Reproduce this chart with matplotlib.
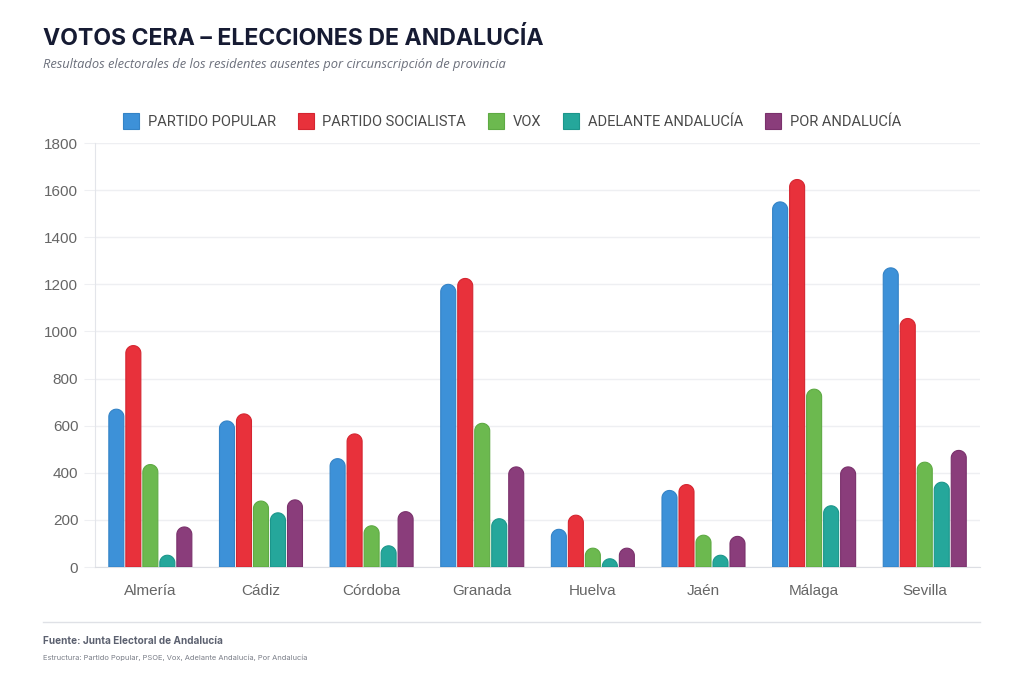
import matplotlib
matplotlib.use("Agg")
import matplotlib.pyplot as plt
from matplotlib.patches import Polygon, Patch
import numpy as np

# datos
provincias = ["Almería", "Cádiz", "Córdoba", "Granada", "Huelva", "Jaén", "Málaga", "Sevilla"]
partidos = ["PARTIDO POPULAR", "PARTIDO SOCIALISTA", "VOX", "ADELANTE ANDALUCÍA", "POR ANDALUCÍA"]
pp = [670, 620, 460, 1200, 160, 325, 1550, 1270]
psoe = [940, 650, 565, 1225, 220, 350, 1645, 1055]
vox = [435, 280, 175, 610, 80, 135, 755, 445]
adelante = [50, 230, 90, 205, 35, 50, 260, 360]
por_and = [170, 285, 235, 425, 80, 130, 425, 495]
yticks = [0, 200, 400, 600, 800, 1000, 1200, 1400, 1600, 1800]

series = [pp, psoe, vox, adelante, por_and]
colores = ["#3d91d8", "#e8313b", "#6cb94f", "#25a79b", "#8a3d7b"]
bordes = ["#3483c6", "#d52530", "#5eaa43", "#1c968b", "#7a316c"]

fig = plt.figure(figsize=(10.24, 6.82), dpi=100)
ax = fig.add_axes([0.0928, 0.1686, 0.8643, 0.6217])

ymax = 1800
ax.set_xlim(-0.5, len(provincias) - 0.5)
ax.set_ylim(0, ymax)

# tamanos en pixeles -> unidades de datos
ax_w_px = 0.8643 * 1024
ax_h_px = 0.6217 * 682
px_x = ax_w_px / len(provincias)
px_y = ax_h_px / ymax
slot = 17 / px_x
ancho = 15 / px_x
r_x = ancho / 2
r_y = (15 / 2) / px_y
ang = np.linspace(0, np.pi, 30)


def barra_redonda(xc, v, c, e):
    # barra con la parte de arriba en semicirculo
    top = max(v - r_y, 0)
    arco = np.column_stack([xc + r_x * np.cos(ang), top + r_y * np.sin(ang)])
    pts = np.vstack([[xc + r_x, 0], arco, [xc - r_x, 0]])
    ax.add_patch(Polygon(pts, closed=True, facecolor=c, edgecolor=e,
                         linewidth=0.8, zorder=3))


for i, (vals, c, e) in enumerate(zip(series, colores, bordes)):
    for j, v in enumerate(vals):
        barra_redonda(j + (i - 2) * slot, v, c, e)

ax.set_yticks(yticks)
ax.set_xticks(range(len(provincias)))
ax.set_xticklabels(provincias)
ax.grid(axis="y", color="#eeeff2", linewidth=1, zorder=0)
for s in ["top", "right"]:
    ax.spines[s].set_visible(False)
ax.spines["left"].set_color("#e3e5ea")
ax.spines["bottom"].set_color("#dcdee3")
ax.tick_params(axis="y", length=8, color="#eeeff2", labelsize=11, labelcolor="#666666", pad=4)
ax.tick_params(axis="x", length=0, labelsize=11, labelcolor="#666666", pad=12)
for lab in ax.get_xticklabels() + ax.get_yticklabels():
    lab.set_fontfamily("Liberation Sans")

handles = [Patch(facecolor=c, edgecolor=e, linewidth=0.8) for c, e in zip(colores, bordes)]
fig.legend(handles, partidos, loc="center", bbox_to_anchor=(0.5, 0.822), ncol=5,
           frameon=False, handlelength=1.1, handleheight=1.3, handletextpad=0.6,
           columnspacing=1.5, prop={"family": "Roboto", "size": 10.5},
           labelcolor="#4a4a4a")

fig.text(0.042, 0.943, "VOTOS CERA – ELECCIONES DE ANDALUCÍA", fontsize=16.6,
         fontweight="bold", color="#161b33", family="Inter", va="center")
fig.text(0.042, 0.906, "Resultados electorales de los residentes ausentes por circunscripción de provincia",
         fontsize=9.3, style="italic", color="#6b6f7b", family="Open Sans", va="center")

fig.add_artist(plt.Line2D([0.042, 0.957], [1 - 622 / 682] * 2, color="#dfe1e6", linewidth=1))
fig.text(0.042, 1 - 641 / 682, "Fuente: Junta Electoral de Andalucía", fontsize=7.2,
         fontweight="bold", color="#5c6170", family="Inter", va="center")
fig.text(0.042, 1 - 658 / 682, "Estructura: Partido Popular, PSOE, Vox, Adelante Andalucía, Por Andalucía",
         fontsize=5.4, color="#7a7e88", family="Inter", va="center")

fig.savefig("out.png", dpi=100, facecolor="white")
